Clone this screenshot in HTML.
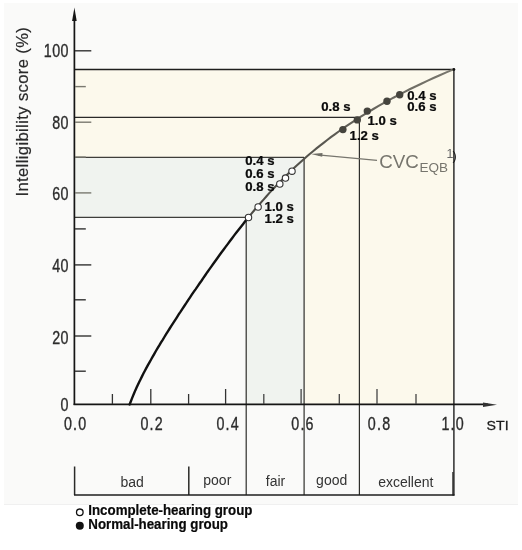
<!DOCTYPE html>
<html><head><meta charset="utf-8"><style>html,body{margin:0;padding:0;background:#fff;}svg{display:block;}</style></head>
<body><svg width="522" height="550" viewBox="0 0 522 550">
<rect x="0" y="0" width="522" height="550" fill="#ffffff"/>
<rect x="4" y="3" width="514" height="501.5" fill="#fafaf9"/>
<line x1="4" y1="504.5" x2="518" y2="504.5" stroke="#f0f0f0" stroke-width="1"/>
<polygon points="75,69.5 453.9,69.5 453.9,404.3 304.1,404.3 304.1,157.3 75,157.3" fill="#fcf9ec"/>
<polygon points="75,157.3 304.1,157.3 304.1,404.3 246.2,404.3 246.2,217.3 75,217.3" fill="#f0f3ef"/>
<line x1="74" y1="69.5" x2="453.9" y2="69.5" stroke="#1e1e1e" stroke-width="1.5"/>
<line x1="74" y1="117.3" x2="359.4" y2="117.3" stroke="#2a2a28" stroke-width="1.3"/>
<line x1="74" y1="157.3" x2="304.1" y2="157.3" stroke="#3e3e3a" stroke-width="1.2"/>
<line x1="74" y1="217.3" x2="246.2" y2="217.3" stroke="#3e3e3a" stroke-width="1.2"/>
<line x1="246.2" y1="217.3" x2="246.2" y2="495" stroke="#2e2e2b" stroke-width="1.2"/>
<line x1="304.1" y1="157.3" x2="304.1" y2="495" stroke="#2e2e2b" stroke-width="1.2"/>
<line x1="359.4" y1="117.3" x2="359.4" y2="495" stroke="#2e2e2b" stroke-width="1.2"/>
<line x1="453.9" y1="69.5" x2="453.9" y2="495.5" stroke="#1e1e1e" stroke-width="1.4"/>
<line x1="452.9" y1="472" x2="452.9" y2="495.5" stroke="#222" stroke-width="1.2"/>
<line x1="74.6" y1="466.5" x2="74.6" y2="495" stroke="#2a2a28" stroke-width="1.5"/>
<line x1="188.8" y1="466.5" x2="188.8" y2="495" stroke="#2a2a28" stroke-width="1.5"/>
<line x1="74" y1="495.0" x2="454.5" y2="495.0" stroke="#1e1e1e" stroke-width="1.5"/>
<line x1="74.4" y1="18" x2="74.4" y2="405" stroke="#151515" stroke-width="1.7"/>
<polygon points="74.4,7.5 72.1,21 76.7,21" fill="#151515"/>
<line x1="73.6" y1="404.4" x2="488" y2="404.4" stroke="#151515" stroke-width="1.6"/>
<polygon points="497,404.8 483,402.6 483,407" fill="#333"/>
<line x1="75" y1="50.8" x2="91.3" y2="50.8" stroke="#333" stroke-width="1.4"/>
<line x1="75" y1="86.6" x2="85.8" y2="86.6" stroke="#7a7970" stroke-width="1.4"/>
<line x1="75" y1="122.2" x2="91.3" y2="122.2" stroke="#7a7970" stroke-width="1.4"/>
<line x1="75" y1="157.1" x2="85.8" y2="157.1" stroke="#7a7970" stroke-width="1.4"/>
<line x1="75" y1="192.9" x2="91.3" y2="192.9" stroke="#7a7970" stroke-width="1.4"/>
<line x1="75" y1="228.9" x2="85.8" y2="228.9" stroke="#333" stroke-width="1.4"/>
<line x1="75" y1="264.9" x2="91.3" y2="264.9" stroke="#333" stroke-width="1.4"/>
<line x1="75" y1="299.8" x2="85.8" y2="299.8" stroke="#333" stroke-width="1.4"/>
<line x1="75" y1="336" x2="91.3" y2="336" stroke="#333" stroke-width="1.4"/>
<line x1="75" y1="371.2" x2="85.8" y2="371.2" stroke="#333" stroke-width="1.4"/>
<line x1="112.4" y1="404" x2="112.4" y2="394" stroke="#333" stroke-width="1.3"/>
<line x1="150.8" y1="404" x2="150.8" y2="389" stroke="#333" stroke-width="1.3"/>
<line x1="188.6" y1="404" x2="188.6" y2="394" stroke="#333" stroke-width="1.3"/>
<line x1="225.6" y1="404" x2="225.6" y2="389" stroke="#333" stroke-width="1.3"/>
<line x1="263.8" y1="404" x2="263.8" y2="394" stroke="#444" stroke-width="1.3"/>
<line x1="301.1" y1="404" x2="301.1" y2="389" stroke="#444" stroke-width="1.3"/>
<line x1="339.3" y1="404" x2="339.3" y2="394" stroke="#444" stroke-width="1.3"/>
<line x1="377" y1="404" x2="377" y2="389" stroke="#444" stroke-width="1.3"/>
<line x1="416" y1="404" x2="416" y2="394" stroke="#444" stroke-width="1.3"/>
<defs><linearGradient id="cg" gradientUnits="userSpaceOnUse" x1="246" y1="0" x2="454" y2="0"><stop offset="0" stop-color="#4a4943"/><stop offset="0.3" stop-color="#55544d"/><stop offset="0.55" stop-color="#64625a"/><stop offset="1" stop-color="#7a786e"/></linearGradient></defs>
<path d="M129.6,404.5 L130.7,401.7 L131.8,398.9 L132.9,396.1 L134.1,393.2 L135.3,390.4 L136.6,387.6 L137.9,384.8 L139.2,382.0 L140.6,379.2 L142.0,376.4 L143.4,373.5 L144.9,370.7 L146.4,367.9 L147.9,365.1 L149.5,362.3 L151.1,359.5 L152.7,356.7 L154.3,353.8 L155.9,351.0 L157.6,348.2 L159.3,345.4 L160.9,342.6 L162.7,339.8 L164.4,337.0 L166.1,334.1 L167.9,331.3 L169.7,328.5 L171.5,325.7 L173.3,322.9 L175.1,320.1 L176.9,317.3 L178.7,314.4 L180.6,311.6 L182.4,308.8 L184.3,306.0 L186.2,303.2 L188.0,300.4 L189.9,297.6 L191.8,294.7 L193.7,291.9 L195.7,289.1 L197.6,286.3 L199.5,283.5 L201.5,280.7 L203.4,277.9 L205.4,275.0 L207.3,272.2 L209.3,269.4 L211.3,266.6 L213.3,263.8 L215.3,261.0 L217.3,258.2 L219.4,255.3 L221.4,252.5 L223.5,249.7 L225.6,246.9 L227.7,244.1 L229.8,241.3 L231.9,238.5 L234.0,235.6 L236.2,232.8 L238.4,230.0 L240.6,227.2 L242.8,224.4 L245.0,221.6 L247.3,218.8" fill="none" stroke="#111" stroke-width="2.4" stroke-linecap="round"/>
<path d="M247.3,218.8 L249.6,215.9 L251.9,213.1 L254.3,210.3 L256.6,207.5 L259.1,204.7 L261.5,201.9 L264.0,199.1 L266.5,196.2 L269.0,193.4 L271.6,190.6 L274.3,187.8 L276.9,185.0 L279.6,182.2 L282.4,179.4 L285.2,176.5 L288.1,173.7 L291.0,170.9 L294.0,168.1 L297.0,165.3 L300.1,162.5 L303.2,159.7 L306.5,156.8 L309.7,154.0 L313.1,151.2 L316.5,148.4 L320.0,145.6 L323.6,142.8 L327.2,140.0 L330.9,137.1 L334.8,134.3 L338.7,131.5 L342.7,128.7 L346.7,125.9 L350.9,123.1 L355.2,120.3 L359.6,117.4 L364.1,114.6 L368.7,111.8 L373.4,109.0 L378.2,106.2 L383.1,103.4 L388.2,100.6 L393.4,97.7 L398.7,94.9 L404.2,92.1 L409.7,89.3 L415.5,86.5 L421.3,83.7 L427.3,80.9 L433.5,78.0 L439.8,75.2 L446.3,72.4 L452.9,69.6" fill="none" stroke="url(#cg)" stroke-width="2.1" stroke-linecap="round"/>
<circle cx="453.9" cy="69.5" r="1.4" fill="#111"/>
<circle cx="248.5" cy="217.5" r="3.2" fill="#fff" stroke="#333" stroke-width="1.1"/>
<circle cx="258.1" cy="207" r="3.2" fill="#fff" stroke="#333" stroke-width="1.1"/>
<circle cx="279.8" cy="184" r="3.2" fill="#fff" stroke="#333" stroke-width="1.1"/>
<circle cx="285.5" cy="178.1" r="3.2" fill="#fff" stroke="#333" stroke-width="1.1"/>
<circle cx="292" cy="171.2" r="3.2" fill="#fff" stroke="#333" stroke-width="1.1"/>
<circle cx="342.9" cy="129.6" r="3.7" fill="#45443d"/>
<circle cx="357.3" cy="119.9" r="3.7" fill="#45443d"/>
<circle cx="367.3" cy="111.1" r="3.7" fill="#45443d"/>
<circle cx="387" cy="101.2" r="3.7" fill="#45443d"/>
<circle cx="399.7" cy="94.8" r="3.7" fill="#45443d"/>
<line x1="377" y1="160.3" x2="318" y2="154.9" stroke="#77766e" stroke-width="1.3"/>
<polygon points="311,154.1 322.5,153.0 322.2,156.8" fill="#6f6e66"/>
<text transform="translate(69.0,57.2) scale(0.78,1)" font-size="18.3" fill="#2b2b2b" text-anchor="end" font-weight="normal" font-family="'Liberation Sans', sans-serif" stroke="#2b2b2b" stroke-width="0.35" letter-spacing="0.6">100</text>
<text transform="translate(69.0,128.5) scale(0.78,1)" font-size="18.3" fill="#2b2b2b" text-anchor="end" font-weight="normal" font-family="'Liberation Sans', sans-serif" stroke="#2b2b2b" stroke-width="0.35" letter-spacing="0.6">80</text>
<text transform="translate(69.0,200.2) scale(0.78,1)" font-size="18.3" fill="#2b2b2b" text-anchor="end" font-weight="normal" font-family="'Liberation Sans', sans-serif" stroke="#2b2b2b" stroke-width="0.35" letter-spacing="0.6">60</text>
<text transform="translate(69.0,272.2) scale(0.78,1)" font-size="18.3" fill="#2b2b2b" text-anchor="end" font-weight="normal" font-family="'Liberation Sans', sans-serif" stroke="#2b2b2b" stroke-width="0.35" letter-spacing="0.6">40</text>
<text transform="translate(69.0,343.5) scale(0.78,1)" font-size="18.3" fill="#2b2b2b" text-anchor="end" font-weight="normal" font-family="'Liberation Sans', sans-serif" stroke="#2b2b2b" stroke-width="0.35" letter-spacing="0.6">20</text>
<text transform="translate(69.0,410.7) scale(0.78,1)" font-size="18.3" fill="#2b2b2b" text-anchor="end" font-weight="normal" font-family="'Liberation Sans', sans-serif" stroke="#2b2b2b" stroke-width="0.35" letter-spacing="0.6">0</text>
<text transform="translate(75.7,429.7) scale(0.78,1)" font-size="18.3" fill="#2b2b2b" text-anchor="middle" font-weight="normal" font-family="'Liberation Sans', sans-serif" stroke="#2b2b2b" stroke-width="0.35" letter-spacing="1.6">0.0</text>
<text transform="translate(152.2,429.7) scale(0.78,1)" font-size="18.3" fill="#2b2b2b" text-anchor="middle" font-weight="normal" font-family="'Liberation Sans', sans-serif" stroke="#2b2b2b" stroke-width="0.35" letter-spacing="1.6">0.2</text>
<text transform="translate(228.2,429.7) scale(0.78,1)" font-size="18.3" fill="#2b2b2b" text-anchor="middle" font-weight="normal" font-family="'Liberation Sans', sans-serif" stroke="#2b2b2b" stroke-width="0.35" letter-spacing="1.6">0.4</text>
<text transform="translate(303,429.7) scale(0.78,1)" font-size="18.3" fill="#2b2b2b" text-anchor="middle" font-weight="normal" font-family="'Liberation Sans', sans-serif" stroke="#2b2b2b" stroke-width="0.35" letter-spacing="1.6">0.6</text>
<text transform="translate(379.6,429.7) scale(0.78,1)" font-size="18.3" fill="#2b2b2b" text-anchor="middle" font-weight="normal" font-family="'Liberation Sans', sans-serif" stroke="#2b2b2b" stroke-width="0.35" letter-spacing="1.6">0.8</text>
<text transform="translate(453.2,429.7) scale(0.78,1)" font-size="18.3" fill="#2b2b2b" text-anchor="middle" font-weight="normal" font-family="'Liberation Sans', sans-serif" stroke="#2b2b2b" stroke-width="0.35" letter-spacing="1.6">1.0</text>
<text transform="translate(486.6,429.6) scale(1.06,1)" font-size="13.4" fill="#1a1a1a" text-anchor="start" font-weight="normal" font-family="'Liberation Sans', sans-serif" stroke="#1a1a1a" stroke-width="0.25">STI</text>
<text transform="translate(28.2,196.6) rotate(-90)" font-size="16.6" fill="#2a2a2a" stroke="#2a2a2a" stroke-width="0.2" textLength="169.5" lengthAdjust="spacing" font-family="'Liberation Sans', sans-serif">Intelligibility score (%)</text>
<text transform="translate(132.2,486.6) scale(1.0,1)" font-size="14" fill="#333" text-anchor="middle" font-weight="normal" font-family="'Liberation Sans', sans-serif" >bad</text>
<text transform="translate(217.3,484.5) scale(1.0,1)" font-size="14" fill="#333" text-anchor="middle" font-weight="normal" font-family="'Liberation Sans', sans-serif" >poor</text>
<text transform="translate(275.5,486.1) scale(1.0,1)" font-size="14" fill="#333" text-anchor="middle" font-weight="normal" font-family="'Liberation Sans', sans-serif" >fair</text>
<text transform="translate(331.7,485.1) scale(1.0,1)" font-size="14" fill="#333" text-anchor="middle" font-weight="normal" font-family="'Liberation Sans', sans-serif" >good</text>
<text transform="translate(405.8,486.5) scale(1.0,1)" font-size="14" fill="#333" text-anchor="middle" font-weight="normal" font-family="'Liberation Sans', sans-serif" >excellent</text>
<text transform="translate(245.3,165.3) scale(0.97,1)" font-size="13.6" fill="#0a0a0a" text-anchor="start" font-weight="bold" font-family="'Liberation Sans', sans-serif" stroke="#0a0a0a" stroke-width="0.25">0.4 s</text>
<text transform="translate(245.3,178.3) scale(0.97,1)" font-size="13.6" fill="#0a0a0a" text-anchor="start" font-weight="bold" font-family="'Liberation Sans', sans-serif" stroke="#0a0a0a" stroke-width="0.25">0.6 s</text>
<text transform="translate(245.3,191.2) scale(0.97,1)" font-size="13.6" fill="#0a0a0a" text-anchor="start" font-weight="bold" font-family="'Liberation Sans', sans-serif" stroke="#0a0a0a" stroke-width="0.25">0.8 s</text>
<text transform="translate(264.6,210.9) scale(0.97,1)" font-size="13.6" fill="#0a0a0a" text-anchor="start" font-weight="bold" font-family="'Liberation Sans', sans-serif" stroke="#0a0a0a" stroke-width="0.25">1.0 s</text>
<text transform="translate(264.6,222.6) scale(0.97,1)" font-size="13.6" fill="#0a0a0a" text-anchor="start" font-weight="bold" font-family="'Liberation Sans', sans-serif" stroke="#0a0a0a" stroke-width="0.25">1.2 s</text>
<text transform="translate(321.2,110.9) scale(0.97,1)" font-size="13.6" fill="#0a0a0a" text-anchor="start" font-weight="bold" font-family="'Liberation Sans', sans-serif" stroke="#0a0a0a" stroke-width="0.25">0.8 s</text>
<text transform="translate(367.5,125) scale(0.97,1)" font-size="13.6" fill="#0a0a0a" text-anchor="start" font-weight="bold" font-family="'Liberation Sans', sans-serif" stroke="#0a0a0a" stroke-width="0.25">1.0 s</text>
<text transform="translate(349.6,139.8) scale(0.97,1)" font-size="13.6" fill="#0a0a0a" text-anchor="start" font-weight="bold" font-family="'Liberation Sans', sans-serif" stroke="#0a0a0a" stroke-width="0.25">1.2 s</text>
<text transform="translate(407.3,100.3) scale(0.97,1)" font-size="13.6" fill="#0a0a0a" text-anchor="start" font-weight="bold" font-family="'Liberation Sans', sans-serif" stroke="#0a0a0a" stroke-width="0.25">0.4 s</text>
<text transform="translate(407.3,111.3) scale(0.97,1)" font-size="13.6" fill="#0a0a0a" text-anchor="start" font-weight="bold" font-family="'Liberation Sans', sans-serif" stroke="#0a0a0a" stroke-width="0.25">0.6 s</text>
<text transform="translate(379.2,167.8) scale(1.0,1)" font-size="18.8" fill="#76756d" text-anchor="start" font-weight="normal" font-family="'Liberation Sans', sans-serif" >CVC</text>
<text transform="translate(419.4,172.0) scale(1.0,1)" font-size="13.5" fill="#76756d" text-anchor="start" font-weight="normal" font-family="'Liberation Sans', sans-serif" >EQB</text>
<text transform="translate(446.4,158.0) scale(1.0,1)" font-size="12.4" fill="#666" text-anchor="start" font-weight="normal" font-family="'Liberation Sans', sans-serif" >1</text>
<text transform="translate(452.6,159.5) scale(1.0,1)" font-size="12.5" fill="#111" text-anchor="start" font-weight="normal" font-family="'Liberation Sans', sans-serif" >)</text>
<circle cx="79.8" cy="512.3" r="3.3" fill="#fff" stroke="#111" stroke-width="1.3"/>
<circle cx="79.8" cy="525.8" r="4" fill="#111"/>
<text transform="translate(88.3,515.0) scale(0.965,1)" font-size="13.8" fill="#0a0a0a" text-anchor="start" font-weight="bold" font-family="'Liberation Sans', sans-serif" stroke="#0a0a0a" stroke-width="0.2">Incomplete-hearing group</text>
<text transform="translate(88.3,529.3) scale(0.965,1)" font-size="13.8" fill="#0a0a0a" text-anchor="start" font-weight="bold" font-family="'Liberation Sans', sans-serif" stroke="#0a0a0a" stroke-width="0.2">Normal-hearing group</text>
</svg></body></html>
